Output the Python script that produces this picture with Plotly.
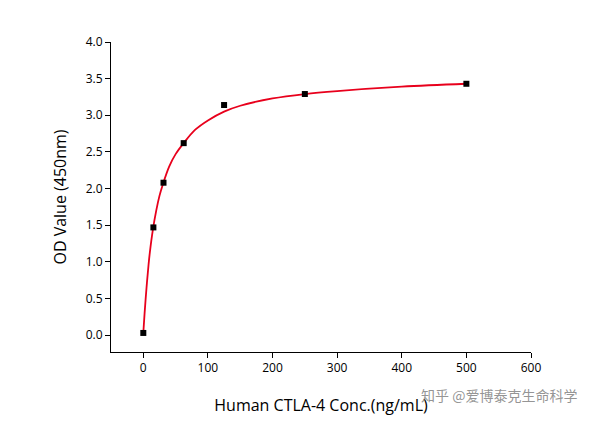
import plotly.graph_objects as go

# measured points
conc = [0, 15.6, 31.25, 62.5, 125, 250, 500]
od = [0.03, 1.47, 2.08, 2.62, 3.14, 3.29, 3.43]

# fitted curve
fit_x = [0, 2, 5, 8, 10, 15, 20, 25, 30, 40, 50, 62.5, 80, 100, 125, 150, 200, 250, 300, 400, 500]
fit_y = [0.03, 0.3, 0.65, 0.95, 1.12, 1.45, 1.7, 1.9, 2.05, 2.3, 2.47, 2.62, 2.8, 2.93, 3.05, 3.13, 3.23, 3.29, 3.33, 3.39, 3.43]

fig = go.Figure()
fig.add_trace(go.Scatter(x=fit_x, y=fit_y, mode="lines", line=dict(color="#e8001c", width=1.8, shape="spline")))
fig.add_trace(go.Scatter(x=conc, y=od, mode="markers", marker=dict(symbol="square", size=6, color="black")))

axis = dict(showline=True, linecolor="black", linewidth=1, ticks="outside", ticklen=5,
            tickcolor="black", showgrid=False, zeroline=False, mirror=False)
fig.update_layout(
    width=591, height=424, showlegend=False,
    plot_bgcolor="white", paper_bgcolor="white",
    margin=dict(l=103, r=68, t=34, b=80),
    font=dict(family="Open Sans, sans-serif", size=12, color="black"),
    xaxis=dict(axis, range=[-50, 600], tickvals=[0, 100, 200, 300, 400, 500, 600],
               title=dict(text="Human CTLA-4 Conc.(ng/mL)", font=dict(size=16), standoff=24)),
    yaxis=dict(axis, range=[-0.23, 4.0], tickvals=[0, 0.5, 1, 1.5, 2, 2.5, 3, 3.5, 4],
               tickformat=".1f", title=dict(text="OD Value (450nm)", font=dict(size=16))),
)
fig.add_annotation(text="知乎 @爱博泰克生命科学", xref="paper", yref="paper", x=1.115, y=-0.14,
                   xanchor="right", yanchor="middle", showarrow=False,
                   font=dict(family="Noto Sans CJK SC", size=14, color="rgba(120,120,120,0.8)"))
fig.write_html("out.html")
